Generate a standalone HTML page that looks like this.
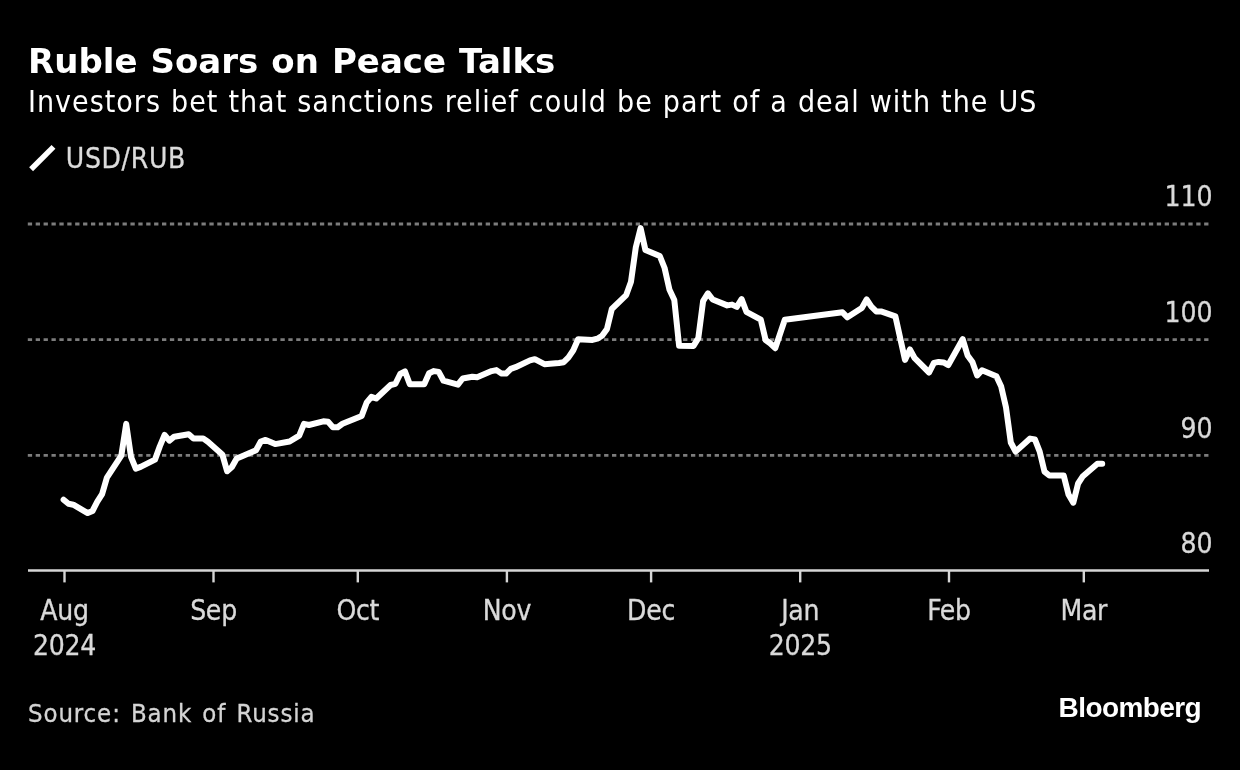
<!DOCTYPE html>
<html lang="en">
<head>
<meta charset="utf-8">
<title>Ruble Soars on Peace Talks</title>
<style>
html,body{margin:0;padding:0;background:#000;}
body{width:1240px;height:770px;overflow:hidden;position:relative;font-family:"DejaVu Sans","Liberation Sans",sans-serif;}
svg{position:absolute;left:0;top:0;display:block}
.title{font-family:"DejaVu Sans","Liberation Sans",sans-serif;font-weight:bold;font-size:34px;fill:#fff;word-spacing:1.2px}
.sub{font-size:30px;fill:#fff;letter-spacing:1px;word-spacing:.5px}
.cond{font-family:"DejaVu Sans Condensed","DejaVu Sans","Liberation Sans",sans-serif;font-stretch:condensed}
.legend{font-size:28px;fill:#dcdcdc;stroke:#dcdcdc;stroke-width:.3px;letter-spacing:.65px}
.ylab text{font-size:28px;fill:#dadada;text-anchor:end;stroke:#dadada;stroke-width:.3px}
.xlab text{font-size:28px;fill:#dadada;stroke:#dadada;stroke-width:.3px;text-anchor:middle;letter-spacing:-.25px}
.src{font-size:25.5px;fill:#d4d4d4;stroke:#d4d4d4;stroke-width:.3px;letter-spacing:.9px;word-spacing:2px}
.logo{font-family:"Liberation Sans",sans-serif;font-weight:bold;font-size:28px;fill:#fff;letter-spacing:-.6px}
</style>
</head>
<body>
<svg width="1240" height="770" viewBox="0 0 1240 770">
<rect width="1240" height="770" fill="#000"/>
<text class="title" x="28" y="73">Ruble Soars on Peace Talks</text>
<text class="cond sub" x="28" y="111.8">Investors bet that sanctions relief could be part of a deal with the US</text>
<line x1="31.1" y1="169.2" x2="53.5" y2="146.9" stroke="#fff" stroke-width="5.5"/>
<text class="cond legend" x="65.8" y="167.5">USD/RUB</text>
<g stroke="#7c7c7c" stroke-width="2.8" stroke-dasharray="4.3 3.595" fill="none"><line x1="27.8" y1="224" x2="1209" y2="224"/><line x1="27.8" y1="339.7" x2="1209" y2="339.7"/><line x1="27.8" y1="455.4" x2="1209" y2="455.4"/></g>
<g class="cond ylab"><text x="1212.6" y="206">110</text><text x="1212.6" y="322">100</text><text x="1212.6" y="438">90</text><text x="1212.6" y="552.7">80</text></g>
<line x1="28" y1="570.45" x2="1209" y2="570.45" stroke="#d6d6d6" stroke-width="2.5"/>
<g stroke="#d6d6d6" stroke-width="2.4"><line x1="64.5" y1="570.4" x2="64.5" y2="582.4"/><line x1="213.5" y1="570.4" x2="213.5" y2="582.4"/><line x1="357.8" y1="570.4" x2="357.8" y2="582.4"/><line x1="506.9" y1="570.4" x2="506.9" y2="582.4"/><line x1="651.1" y1="570.4" x2="651.1" y2="582.4"/><line x1="800.2" y1="570.4" x2="800.2" y2="582.4"/><line x1="949" y1="570.4" x2="949" y2="582.4"/><line x1="1083.8" y1="570.4" x2="1083.8" y2="582.4"/></g>
<g class="cond xlab"><text x="64.5" y="619.5">Aug</text><text x="64.5" y="655">2024</text><text x="213.5" y="619.5">Sep</text><text x="357.8" y="619.5">Oct</text><text x="506.9" y="619.5">Nov</text><text x="651.1" y="619.5">Dec</text><text x="800.2" y="619.5">Jan</text><text x="800.2" y="655">2025</text><text x="949" y="619.5">Feb</text><text x="1083.8" y="619.5">Mar</text></g>
<path d="M63.6 499.7 L68.5 503.8 L73.3 504.7 L87.7 513.1 L92.5 511.0 L97.3 501.7 L102.1 494.1 L106.9 477.6 L121.3 455.7 L126.2 423.9 L131.0 456.9 L135.8 468.6 L140.6 466.9 L155.0 459.6 L159.8 446.4 L164.6 434.9 L169.4 440.6 L174.2 436.7 L188.7 434.2 L193.5 438.4 L203.1 438.4 L207.9 441.8 L222.3 454.4 L227.1 471.3 L231.9 467.1 L236.7 458.6 L241.5 456.6 L256.0 450.3 L260.8 441.5 L265.6 439.9 L275.2 444.1 L289.6 441.5 L299.2 435.6 L304.0 423.8 L308.9 425.0 L323.3 421.3 L328.1 421.8 L332.9 427.2 L337.7 427.2 L342.5 423.8 L361.7 415.9 L366.6 402.7 L371.4 396.8 L376.2 398.5 L390.6 385.0 L395.4 383.8 L400.2 374.0 L405.0 371.5 L409.8 384.2 L424.2 384.2 L429.1 373.2 L433.9 371.1 L438.7 371.9 L443.5 380.7 L457.9 384.6 L462.7 378.5 L472.3 376.8 L477.1 377.3 L491.6 371.1 L496.4 370.1 L501.2 373.4 L506.0 373.6 L510.8 368.9 L515.6 367.2 L530.0 360.4 L534.8 359.2 L544.4 364.2 L558.9 363.0 L563.7 362.2 L568.5 357.4 L573.3 350.3 L578.1 339.2 L592.5 339.9 L597.3 338.7 L602.1 335.8 L607.0 328.9 L611.8 309.0 L626.2 295.1 L631.0 281.7 L635.8 247.4 L640.6 228.1 L645.4 250.0 L659.8 256.0 L664.6 268.0 L669.5 289.8 L674.3 300.0 L679.1 345.7 L693.5 345.9 L698.3 338.1 L703.1 301.1 L707.9 293.3 L712.7 299.5 L727.2 305.4 L732.0 304.6 L736.8 306.9 L741.6 299.1 L746.4 311.8 L760.8 319.6 L765.6 340.0 L770.4 343.5 L775.2 348.2 L784.8 319.7 L842.5 312.3 L847.4 317.3 L861.8 307.9 L866.6 299.4 L871.4 306.7 L876.2 311.4 L881.0 311.4 L895.4 316.3 L905.0 359.9 L909.9 349.4 L914.7 358.2 L929.1 372.5 L933.9 362.9 L938.7 361.9 L943.5 362.4 L948.3 365.0 L962.7 339.2 L967.6 355.5 L972.4 362.0 L977.2 375.5 L982.0 370.3 L996.4 376.2 L1001.2 386.6 L1006.0 407.4 L1010.8 442.5 L1015.6 451.6 L1030.1 438.6 L1034.9 439.4 L1039.7 451.6 L1044.5 471.6 L1049.3 475.5 L1063.7 475.5 L1068.5 494.4 L1073.3 502.7 L1078.1 483.5 L1082.9 476.2 L1097.4 463.8 L1102.2 463.8" fill="none" stroke="#fff" stroke-width="6" stroke-linejoin="round" stroke-linecap="round"/>
<text class="cond src" x="28" y="721.5">Source: Bank of Russia</text>
<text class="logo" x="1058.6" y="717.3">Bloomberg</text>
</svg>
</body>
</html>
